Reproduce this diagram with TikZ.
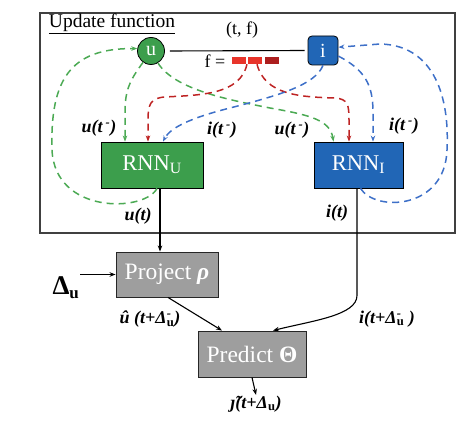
\documentclass[tikz,border=0pt]{standalone}
\usepackage{fontspec}
\setmainfont{Liberation Serif}
\usetikzlibrary{arrows.meta}

\definecolor{boxgreen}{RGB}{60,158,76}
\definecolor{dashgreen}{RGB}{76,170,84}
\definecolor{boxblue}{RGB}{33,102,182}
\definecolor{dashblue}{RGB}{62,112,200}
\definecolor{dashred}{RGB}{190,35,35}
\definecolor{barred}{RGB}{232,52,42}
\definecolor{bardark}{RGB}{172,30,30}
\definecolor{boxgray}{RGB}{158,158,158}
\definecolor{framegray}{RGB}{64,64,64}

\begin{document}
\begin{tikzpicture}[x=1pt,y=1pt,yscale=-1,
  >={Stealth[length=6pt,width=4.5pt]},
  lbl/.style={inner sep=0.75pt,font=\fontsize{18}{20}\selectfont\bfseries\itshape},
  txt/.style={inner sep=0.75pt,font=\fontsize{18}{20}\selectfont},
  rnnbox/.style={draw=black,line width=0.8pt,minimum height=46pt,text=white,font=\fontsize{22.5}{24}\selectfont},
  graybox/.style={draw=black!85,line width=0.9pt,fill=boxgray,minimum height=46pt,text=white,font=\fontsize{23.5}{25}\selectfont},
  bar/.style={inner sep=0pt,minimum width=14pt,minimum height=7pt},
  gdash/.style={draw=dashgreen,line width=1.5pt,dash pattern=on 7pt off 5pt},
  rdash/.style={draw=dashred,line width=1.5pt,dash pattern=on 7pt off 5pt},
  bdash/.style={draw=dashblue,line width=1.5pt,dash pattern=on 7pt off 5pt},
  conn/.style={line width=1.1pt}]
\useasboundingbox (0,0) rectangle (474,435);

% update function frame
\draw [draw=framegray,line width=1.2pt] (40,13) rectangle (455,233);
\node (title) [txt,anchor=west,font=\fontsize{19.5}{21}\selectfont] at (48,24) {\underline{Update function}};
\node (tf) [txt] at (242,30) {(t, f)};

% user and item
\node (u) [circle,draw=black,line width=0.8pt,fill=boxgreen,minimum size=27pt,inner sep=0pt,text=white,font=\fontsize{20}{22}\selectfont] at (151,51) {u};
\node (i) [draw=black,line width=0.8pt,fill=boxblue,rounded corners=4pt,minimum width=30pt,minimum height=29pt,inner sep=0pt,text=white,font=\fontsize{20}{22}\selectfont] at (323,50.5) {i};
\draw [conn] ([xshift=5pt]u.east) -- ([xshift=-3pt]i.west);

% feature bars
\node (feq) [txt] at (215,61) {f =};
\node (b1) [bar,fill=barred] at (239,60.5) {};
\node (b2) [bar,fill=barred] at (255,60.5) {};
\node (b3) [bar,fill=bardark] at (271.5,60.5) {};

% RNN boxes
\node (rnnU) [rnnbox,fill=boxgreen,minimum width=102pt] at (152,165) {RNN\textsubscript{U}};
\node (rnnI) [rnnbox,fill=boxblue,minimum width=89pt] at (358.5,165) {RNN\textsubscript{I}};

% green dashed
\draw [gdash,->] ([xshift=5pt]rnnU.south) .. controls (145,212) and (55,215) .. (52,150) .. controls (50,80) and (70,48) .. (u.170);
\draw [gdash,->] (u.235) .. controls (130,80) and (125,90) .. (125,112) -- ([xshift=-27pt]rnnU.north);
\draw [gdash,->] (u.-60) .. controls (175,90) and (230,100) .. (270,108) .. controls (310,115) and (330,120) .. ([xshift=-25pt]rnnI.north);

% red dashed
\draw [rdash,->] ([xshift=-8pt]b2.south) .. controls (240,95) and (200,95) .. (165,97) .. controls (150,98) and (148,105) .. (148,120) -- ([xshift=-4pt]rnnU.north);
\draw [rdash,->] ([xshift=2pt]b2.south) .. controls (265,95) and (300,97) .. (335,98) .. controls (348,99) and (349,105) .. (349,120) -- ([xshift=-9.5pt]rnnI.north);

% blue dashed
\draw [bdash,->] (i.south) .. controls (315,85) and (280,95) .. (230,108) .. controls (190,118) and (170,128) .. ([xshift=11pt]rnnU.north);
\draw [bdash,->] (i.-20) .. controls (365,70) and (373,85) .. (373,112) -- ([xshift=14.5pt]rnnI.north);
\draw [bdash,->] ([xshift=2pt]rnnI.south) .. controls (375,212) and (445,210) .. (447,150) .. controls (450,90) and (430,45) .. (380,44) -- (i.12);

% labels inside the frame
\node (ut1) [lbl] at (99,128) {u(t\,\textsuperscript{-})};
\node (it1) [lbl] at (222,130) {i(t\,\textsuperscript{-})};
\node (ut2) [lbl] at (292,130) {u(t\,\textsuperscript{-})};
\node (it2) [lbl] at (404,126) {i(t\,\textsuperscript{-})};
\node (utl) [lbl] at (138,216) {u(t)};
\node (itl) [lbl] at (337,213) {i(t)};

% project and predict
\node (project) [graybox,minimum width=102pt,minimum height=45pt] at (167,274.5) {Project \textbf{\textit{ρ}}};
\node (predict) [graybox,minimum width=108pt] at (252,354) {Predict \textbf{Θ}};
\node (delta) [inner sep=0.75pt,font=\fontsize{27}{29}\selectfont\bfseries] at (66,288) {Δ\textsubscript{\fontsize{17}{18}\selectfont u}};
\node (uhat) [lbl] at (150,319) {\^{u} (t+Δ\rlap{\textsuperscript{-}}\textsubscript{\textup{u}})};
\node (ipl) [lbl] at (387,319) {i(t+Δ\rlap{\textsuperscript{-}}\textsubscript{\textup{u}} )};
\node (jt) [lbl] at (256,404) {\~{\j}(t+Δ\textsubscript{\textup{u}})};

% solid connectors
\draw [conn,->] ([xshift=8pt]rnnU.south) -- ([xshift=8pt]rnnU.south |- project.north);
\draw [conn,->] ([xshift=-1.5pt]rnnI.south) -- ++(0,107) .. controls +(0,20) and +(40,-10) .. ([xshift=21pt]predict.north);
\draw [conn,->] ([xshift=1pt]project.south) -- ([xshift=-30pt]predict.north);
\draw [conn,->] (delta.east |- project.west) -- (project.west);
\draw [conn,->] (predict.south) -- (jt.north);

\end{tikzpicture}
\end{document}
